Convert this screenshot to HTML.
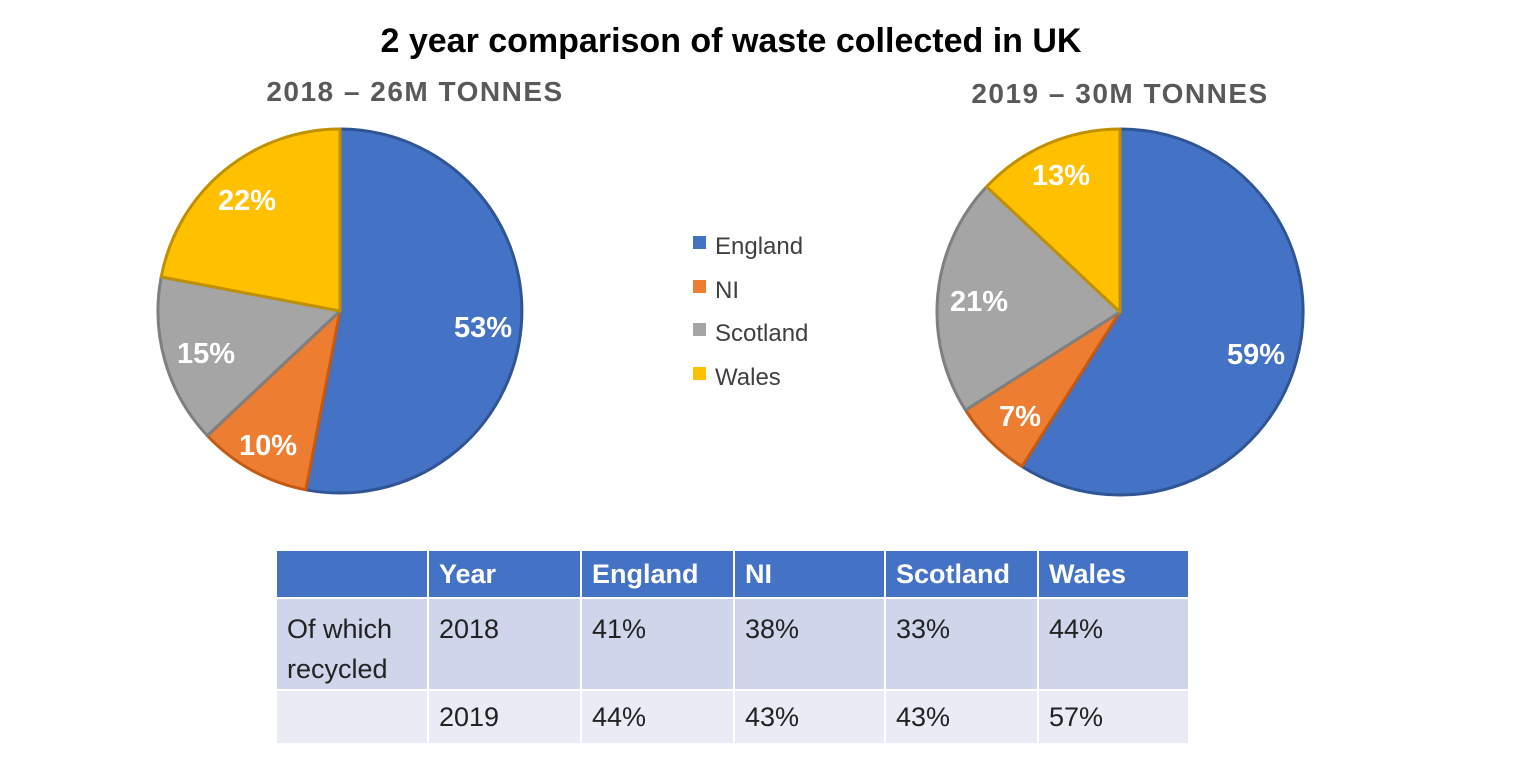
<!DOCTYPE html>
<html><head><meta charset="utf-8"><style>
body{margin:0;width:1536px;height:761px;background:#fff;overflow:hidden;font-family:"Liberation Sans",sans-serif;}
svg{position:absolute;left:0;top:0}
table{position:absolute;left:275px;top:549px;border-collapse:collapse;font-size:27px;color:#222}
td{border:2px solid #fff;padding:0 0 0 10px;vertical-align:top}
tr.h td{background:#4472C4;color:#fff;font-weight:bold;height:46px;vertical-align:middle}
tr.a td{background:#CFD5EA;height:90px;padding-top:10px;line-height:40px;box-sizing:border-box}
tr.b td{background:#E9EBF5;height:52px;vertical-align:middle}
</style></head><body>
<svg width="1536" height="761">
<text x="731" y="52" text-anchor="middle" font-size="34" font-weight="bold" fill="#000">2 year comparison of waste collected in UK</text>
<text x="415" y="101" text-anchor="middle" font-size="28" font-weight="bold" fill="#595959" letter-spacing="1.5">2018 – 26M TONNES</text>
<text x="1120" y="103" text-anchor="middle" font-size="28" font-weight="bold" fill="#595959" letter-spacing="1.5">2019 – 30M TONNES</text>
<g stroke-width="3" stroke-linejoin="round">
<path d="M340,311 L340,129 A182,182 0 1 1 305.9,489.8 Z" fill="#4472C4" stroke="#2F5597"/>
<path d="M340,311 L305.9,489.8 A182,182 0 0 1 207.3,435.6 Z" fill="#ED7D31" stroke="#C55A11"/>
<path d="M340,311 L207.3,435.6 A182,182 0 0 1 161.2,276.9 Z" fill="#A5A5A5" stroke="#7F7F7F"/>
<path d="M340,311 L161.2,276.9 A182,182 0 0 1 340,129 Z" fill="#FFC000" stroke="#BF9000"/>
<path d="M1120,312 L1120,129 A183,183 0 1 1 1022,466.5 Z" fill="#4472C4" stroke="#2F5597"/>
<path d="M1120,312 L1022,466.5 A183,183 0 0 1 965.5,410.1 Z" fill="#ED7D31" stroke="#C55A11"/>
<path d="M1120,312 L965.5,410.1 A183,183 0 0 1 986.6,186.7 Z" fill="#A5A5A5" stroke="#7F7F7F"/>
<path d="M1120,312 L986.6,186.7 A183,183 0 0 1 1120,129 Z" fill="#FFC000" stroke="#BF9000"/>
</g>
<g font-size="29" font-weight="bold" fill="#fff" text-anchor="middle">
<text x="483" y="337">53%</text><text x="268" y="455">10%</text><text x="206" y="363">15%</text><text x="247" y="210">22%</text>
<text x="1256" y="364">59%</text><text x="1020" y="426">7%</text><text x="979" y="311">21%</text><text x="1061" y="185">13%</text>
</g>
<g font-size="24" fill="#404040">
<rect x="693" y="236" width="13" height="13" fill="#4472C4"/><text x="715" y="254">England</text>
<rect x="693" y="280" width="13" height="13" fill="#ED7D31"/><text x="715" y="298">NI</text>
<rect x="693" y="323" width="13" height="13" fill="#A5A5A5"/><text x="715" y="341">Scotland</text>
<rect x="693" y="367" width="13" height="13" fill="#FFC000"/><text x="715" y="385">Wales</text>
</g>
</svg>
<table>
<colgroup><col style="width:152px"><col style="width:153px"><col style="width:153px"><col style="width:151px"><col style="width:153px"><col style="width:151px"></colgroup>
<tr class="h"><td></td><td>Year</td><td>England</td><td>NI</td><td>Scotland</td><td>Wales</td></tr>
<tr class="a"><td>Of which recycled</td><td>2018</td><td>41%</td><td>38%</td><td>33%</td><td>44%</td></tr>
<tr class="b"><td></td><td>2019</td><td>44%</td><td>43%</td><td>43%</td><td>57%</td></tr>
</table>
</body></html>
